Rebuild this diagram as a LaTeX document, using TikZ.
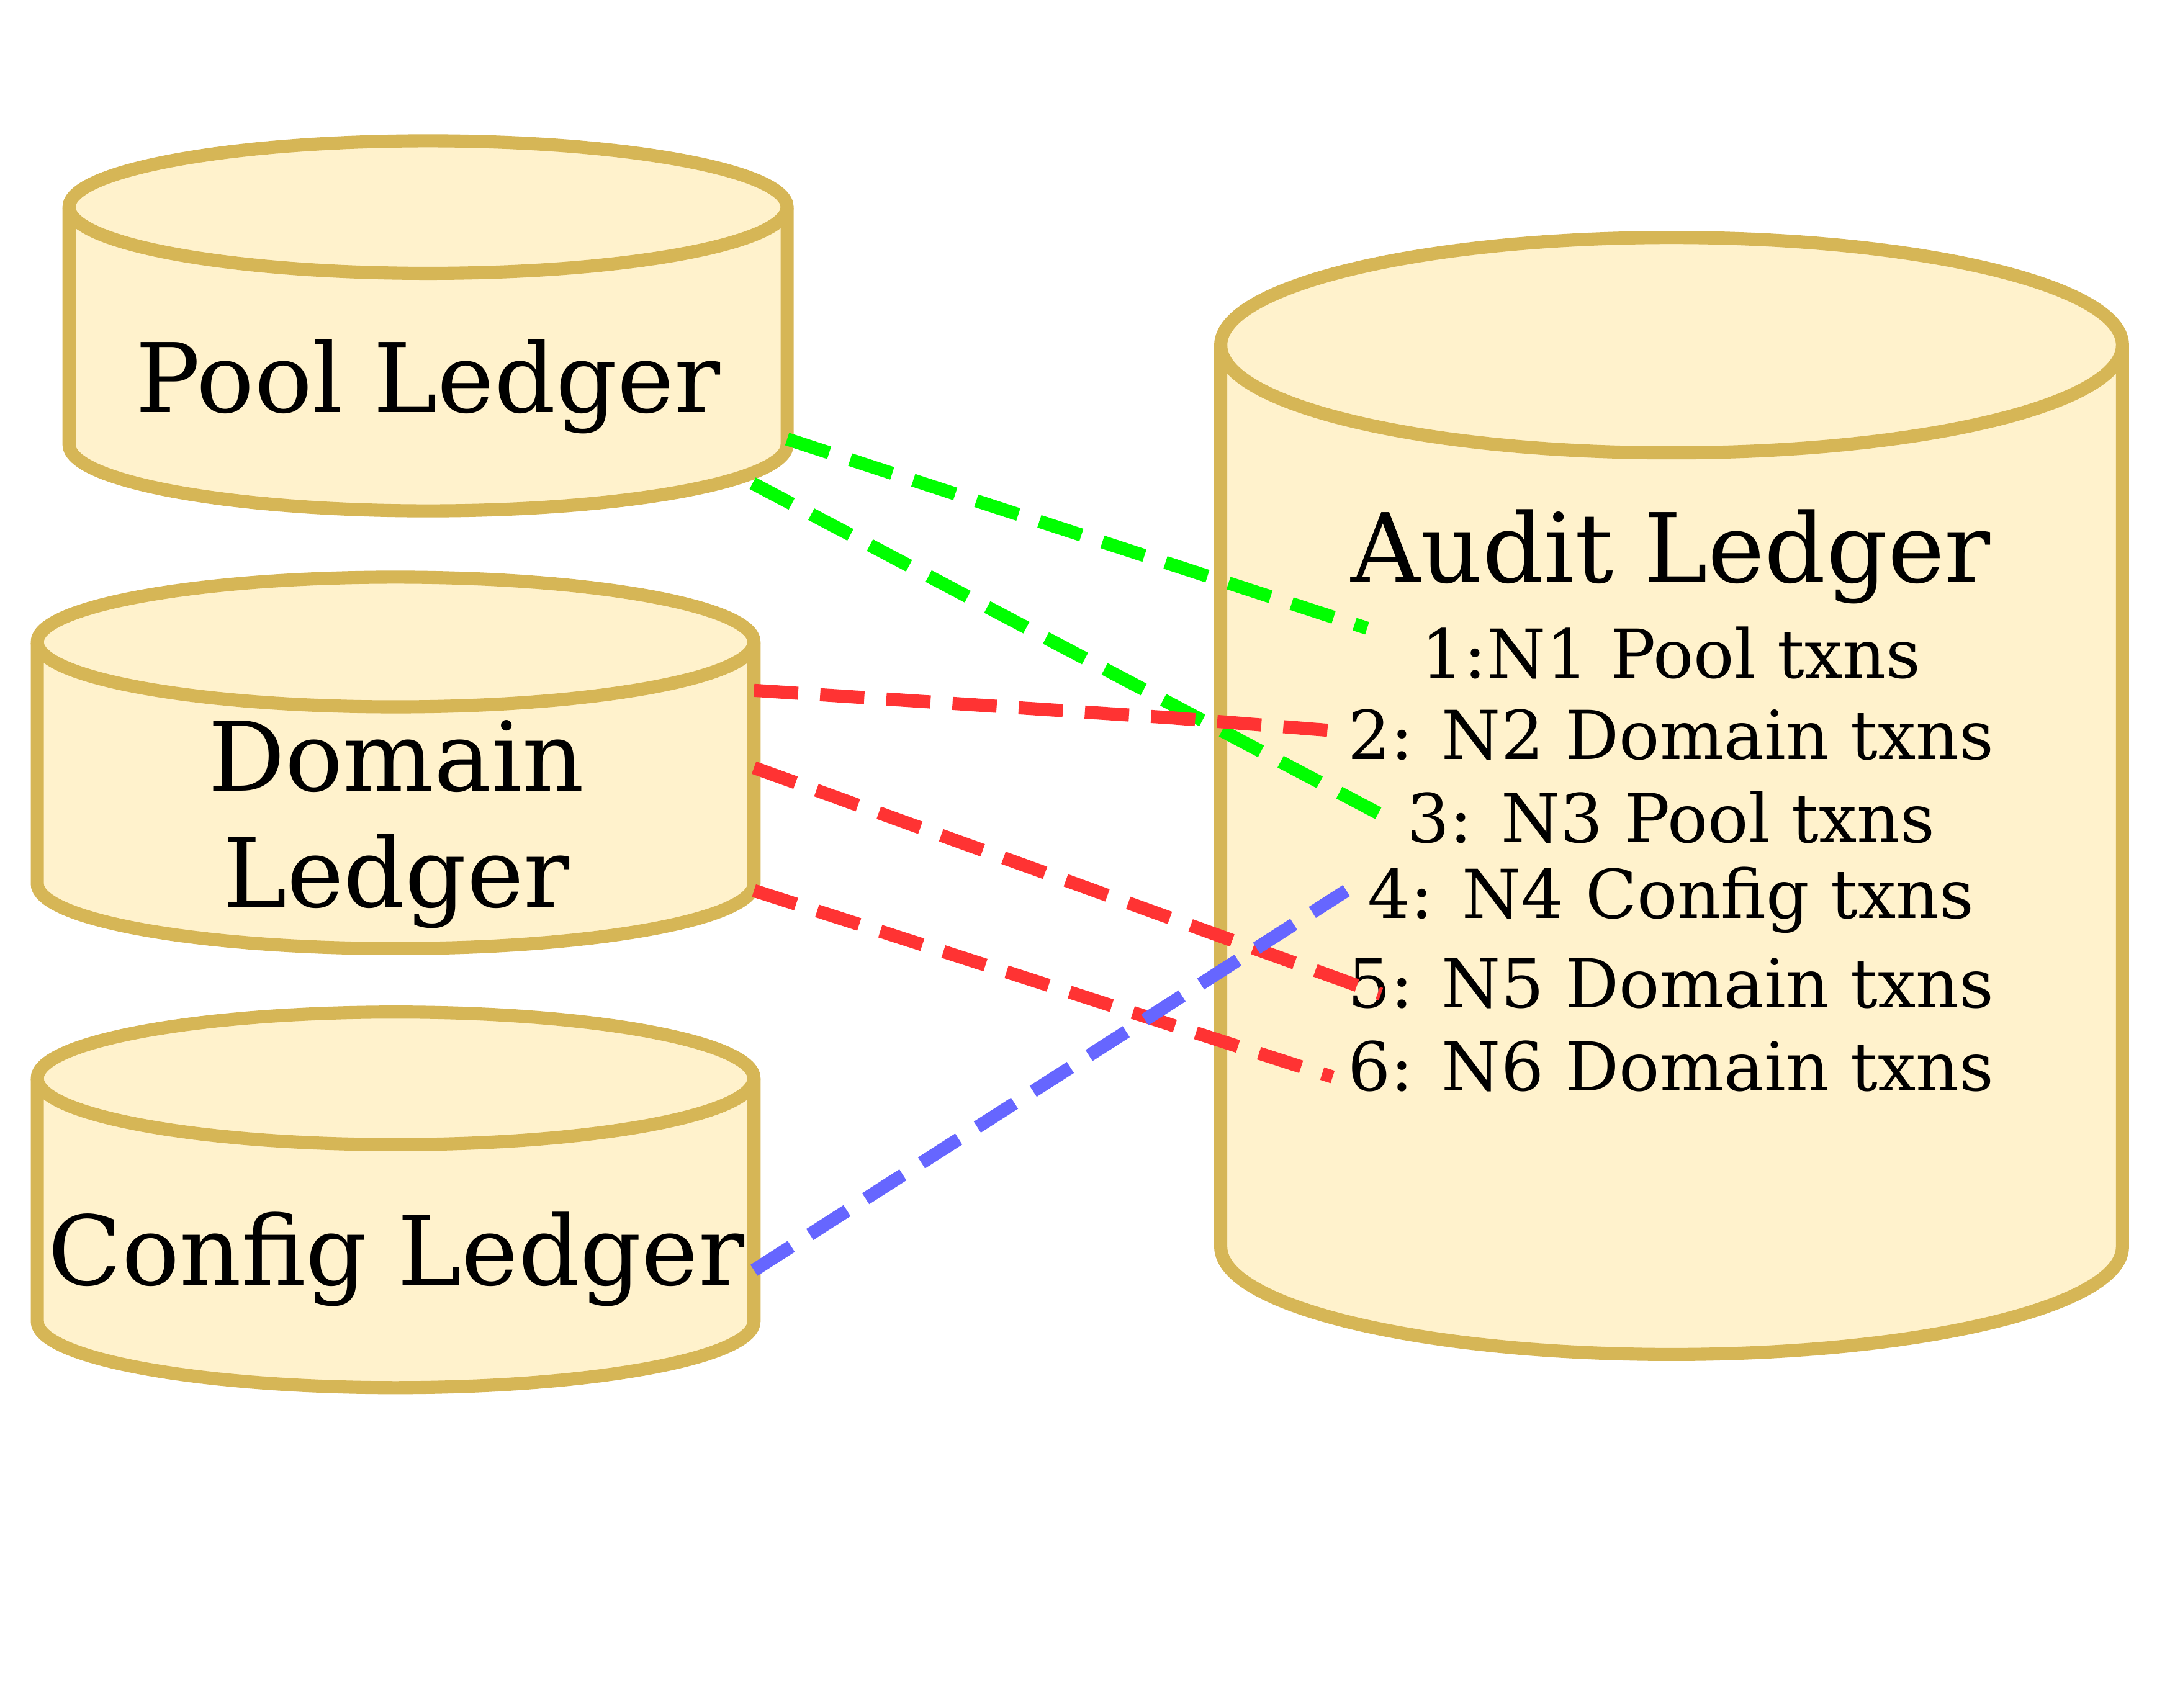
\documentclass[tikz,border=0pt]{standalone}
\usepackage{fontspec}
\setmainfont{DejaVu Serif}
\begin{document}
\begin{tikzpicture}[x=0.01cm,y=-0.01cm,
  cyl/.style={draw=cylb,fill=cylf,line width=2.7pt},
  big/.style={font=\fontsize{19.8}{24}\selectfont,align=center},
  small/.style={font=\fontsize{13.9}{17}\selectfont,align=center},
  dl/.style={line width=2.7pt,dash pattern=on 0.32cm off 0.16cm}]
\definecolor{cylb}{HTML}{D6B656}
\definecolor{cylf}{HTML}{FFF2CC}
\definecolor{gr}{HTML}{00FF00}
\definecolor{rd}{HTML}{FF3333}
\definecolor{bl}{HTML}{6666FF}
\useasboundingbox (0,0) rectangle (1562,1237);
\newcommand{\mycyl}[5]{%
  \path[cyl] (#1,#3) -- (#1,#4) arc[start angle=180,end angle=0,x radius={(#2-#1)/2},y radius=#5] -- (#2,#3) arc[start angle=0,end angle=-180,x radius={(#2-#1)/2},y radius=#5] -- cycle;
  \draw[cylb,line width=2.7pt] (#1,#3) arc[start angle=180,end angle=0,x radius={(#2-#1)/2},y radius=#5];}
\mycyl{50}{570}{150}{322}{48}
\mycyl{27}{546}{465}{640}{47}
\mycyl{27}{546}{781}{957}{48}
\mycyl{884}{1537}{250}{903}{78}
\node[big] (pool) at (310,280) {Pool Ledger};
\node[big] (dom) at (287,597) {Domain\\Ledger};
\node[big] (cfg) at (287,912) {Config Ledger};
\node[big] (aud) at (1210,403) {Audit Ledger};
\node[small] (t1) at (1210,473) {1:N1 Pool txns};
\node[small] (t2) at (1210,532) {2: N2 Domain txns};
\node[small] (t3) at (1210,592) {3: N3 Pool txns};
\node[small] (t4) at (1210,652) {4: N4 Config txns};
\node[small] (t5) at (1210,712) {5: N5 Domain txns};
\node[small] (t6) at (1210,772) {6: N6 Domain txns};
\coordinate (p1) at (570,318); \coordinate (p2) at (545,350);
\coordinate (d1) at (546,500); \coordinate (d2) at (546,556); \coordinate (d3) at (546,645);
\coordinate (c1) at (546,920);
\coordinate (a1) at (990,455); \coordinate (a2) at (975,530); \coordinate (a3) at (1000,590);
\coordinate (a4) at (975,645); \coordinate (a5) at (1000,720); \coordinate (a6) at (965,780);
\draw[dl,gr] (p1) -- (a1);
\draw[dl,gr] (p2) -- (a3);
\draw[dl,rd] (d1) -- (850,520) -- (a2);
\draw[dl,rd] (d2) -- (a5);
\draw[dl,rd] (d3) -- (835,738) -- (a6);
\draw[dl,bl] (c1) -- (a4);
\end{tikzpicture}
\end{document}
